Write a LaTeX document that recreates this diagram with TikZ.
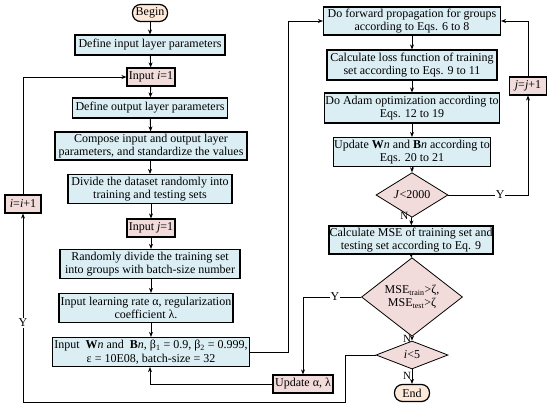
\documentclass[tikz,border=0pt]{standalone}
\usepackage{fontspec}
\setmainfont{Liberation Serif}
\usetikzlibrary{shapes.geometric,arrows.meta}
\definecolor{boxblue}{HTML}{DBEEF4}
\definecolor{boxpink}{HTML}{F2DCDB}
\definecolor{boxpeach}{HTML}{FDE9D9}
\begin{document}
\begin{tikzpicture}[x=1pt,y=-1pt,
  every node/.style={font=\fontsize{12}{13.5}\selectfont},
  bbox/.style={draw, line width=1.2pt, fill=boxblue, align=center, inner sep=0.5pt},
  pbox/.style={draw, line width=1.2pt, fill=boxpink, align=center, inner sep=1pt, minimum height=18},
  term/.style={draw, line width=1.2pt, fill=boxpeach, rounded corners=8pt, minimum width=35, minimum height=17, inner sep=1pt},
  dec/.style={draw, line width=0.8pt, fill=boxpink, diamond, inner sep=0pt, align=center},
  arr/.style={line width=0.9pt, -{Stealth[length=5pt,width=4pt]}},
  nlab/.style={left=0.5pt, inner sep=0pt, font=\fontsize{11}{12}\selectfont},
  lab/.style={fill=white, inner sep=1pt, font=\fontsize{12}{13}\selectfont}]
\useasboundingbox (0,0) rectangle (550,407);
% left column
\node[term] (begin) at (150,13) {Begin};
\node[bbox, minimum width=150, minimum height=20] (n2) at (150,45) {Define input layer parameters};
\node[pbox, minimum width=48] (i1) at (151,77) {Input \textit{i}=1};
\node[bbox, minimum width=155, minimum height=20] (n3) at (150,108) {Define output layer parameters};
\node[bbox, minimum width=192, minimum height=28] (n4) at (151,146) {Compose input and output layer\\parameters, and standardize the values};
\node[bbox, minimum width=164, minimum height=29] (n5) at (150,189) {Divide the dataset randomly into\\training and testing sets};
\node[pbox, minimum width=48] (j1) at (151,228) {Input \textit{j}=1};
\node[bbox, minimum width=180, minimum height=29] (n6) at (150,264) {Randomly divide the training set\\into groups with batch-size number};
\node[bbox, minimum width=174, minimum height=29] (n7) at (146,308) {Input learning rate α, regularization\\coefficient λ.};
\node[bbox, minimum width=197, minimum height=29] (n8) at (151,352) {Input\ \ \textbf{W}\textit{n} and\ \ \textbf{B}\textit{n}, β\textsubscript{1} = 0.9, β\textsubscript{2} = 0.999,\\ε = 10E08, batch-size = 32};
\node[pbox, minimum width=36] (ii) at (23,204) {\textit{i}=\textit{i}+1};
% right column
\node[bbox, minimum width=177, minimum height=28] (fwd) at (412,21) {Do forward propagation for groups\\according to Eqs. 6 to 8};
\node[bbox, minimum width=170, minimum height=30] (loss) at (412,65) {Calculate loss function of training\\set according to Eqs. 9 to 11};
\node[bbox, minimum width=172, minimum height=30] (adam) at (412,108) {Do Adam optimization according to\\Eqs. 12 to 19};
\node[bbox, minimum width=156, minimum height=29] (upd) at (412,152) {Update \textbf{W}\textit{n} and \textbf{B}\textit{n} according to\\Eqs. 20 to 21};
\node[dec, minimum width=72, minimum height=28] (d1) at (412,195) {\textit{J}<2000};
\node[pbox, minimum width=37] (jj) at (528,86) {\textit{j}=\textit{j}+1};
\node[bbox, minimum width=160, minimum height=28] (mse) at (411,240) {Calculate MSE of training set and\\testing set according to Eq. 9};
\node[dec, minimum width=101, minimum height=57] (d2) at (412,297) {MSE\textsubscript{train}>ζ,\\MSE\textsubscript{test}>ζ};
\node[pbox, minimum width=60] (upda) at (303,384) {Update α, λ};
\node[dec, minimum width=72, minimum height=28] (d3) at (412,355) {\textit{i}<5};
\node[term] (end) at (412,393) {End};
% N labels
\node[nlab, anchor=east, left=0pt] (nl1) at (409,216) {N};
% arrows left column
\draw[arr] (begin) -- (n2);
\draw[arr] (n2) -- (i1);
\draw[arr] (i1) -- (n3);
\draw[arr] (n3) -- (n4);
\draw[arr] (n4.south -| 150,0) -- (n5.north -| 150,0);
\draw[arr] (n5.south -| 151,0) -- (j1);
\draw[arr] (j1) -- (n6.north -| 151,0);
\draw[arr] (n6.south -| 151,0) -- (n7.north -| 151,0);
\draw[arr] (n7.south -| 151,0) -- (n8.north -| 151,0);
% n8 to forward
\draw[arr] (n8.east) -- (288,352) -- (288,21) -- (fwd.west);
% right column
\draw[arr] (fwd) -- (loss);
\draw[arr] (loss) -- (adam);
\draw[arr] (adam) -- (upd);
\draw[arr] (upd) -- (d1);
\draw[arr] (d1) -- (mse);
\draw[arr] (d1.east) -- node[lab, pos=0.65]{Y} (528,195) -- (jj.south);
\draw[arr] (jj.north) -- (528,21) -- (fwd.east);
\draw[arr] (mse) -- (d2);
\draw[arr] (d2) -- (d3) node[pos=0.5, nlab] {N};
\draw[arr] (d3) -- (end) node[pos=0.45, nlab] {N};
\draw[arr] (d2.west) -- node[lab, pos=0.45]{Y} (303,297) -- (upda.north);
\draw[arr] (upda.west) -- (150,384) -- (n8.south -| 150,0);
\draw[arr] (d3.west) -- (345,355) -- (345,402) -- (23,402) -- node[lab, pos=0.42]{Y} (ii.south);
\draw[arr] (ii.north) -- (23,77) -- (i1.west);
\end{tikzpicture}
\end{document}
